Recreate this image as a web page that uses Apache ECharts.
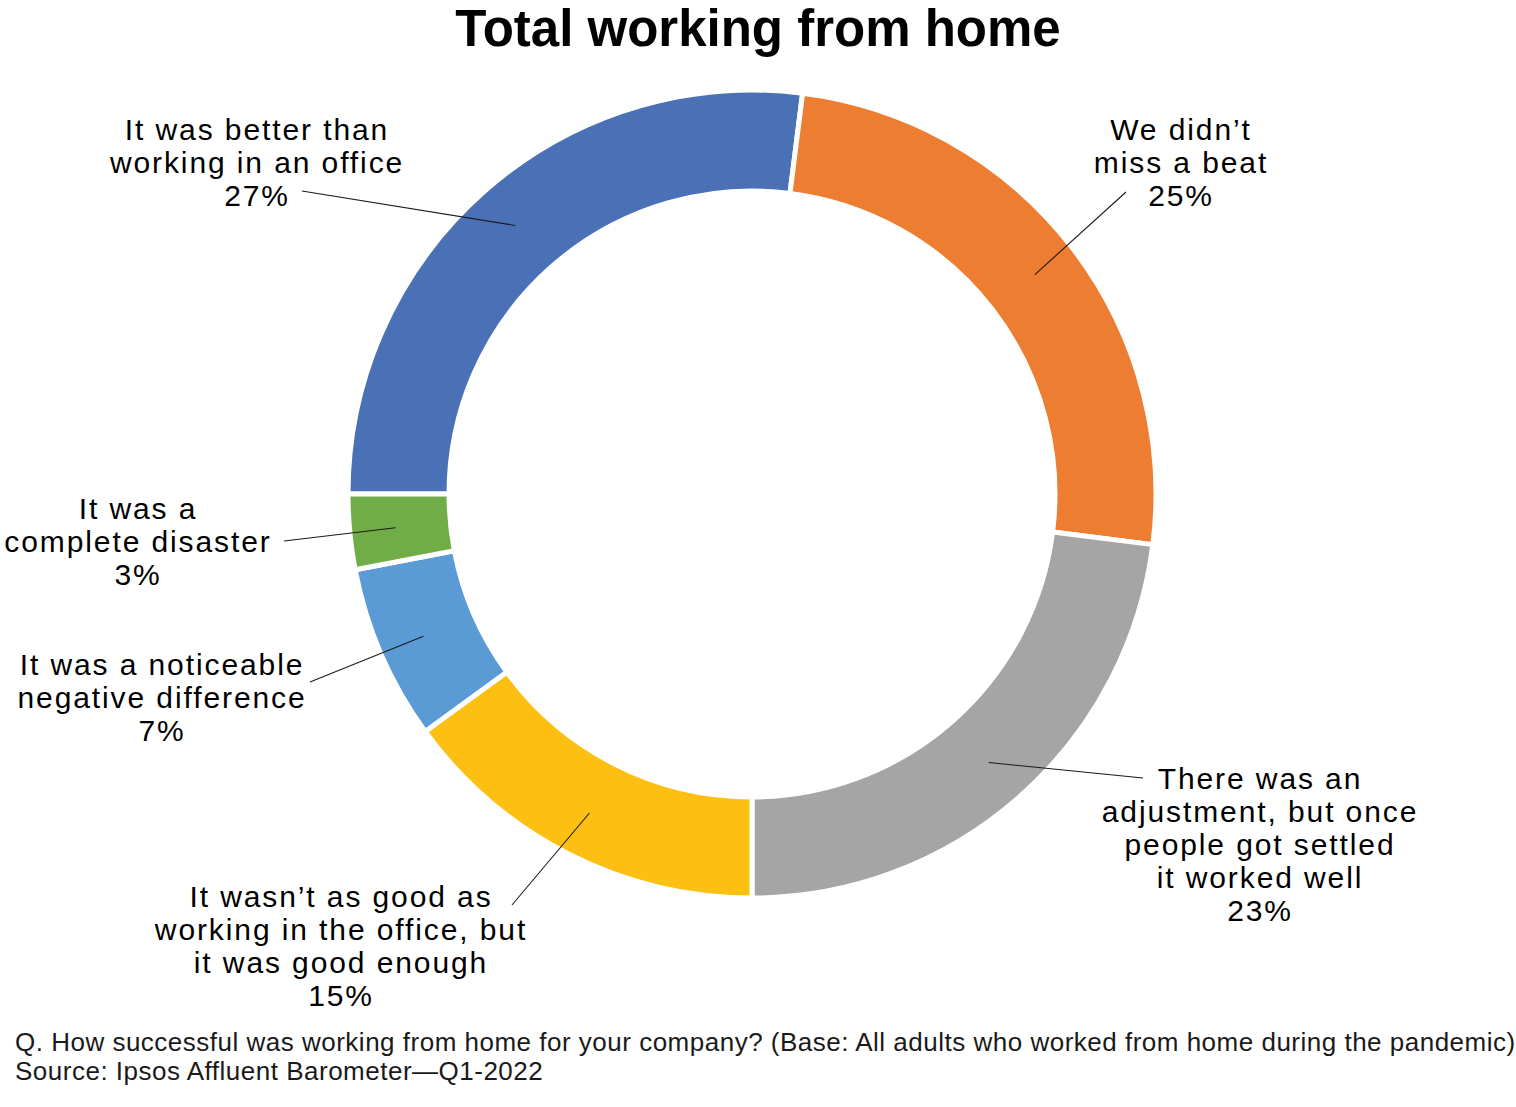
<!DOCTYPE html>
<html>
<head>
<meta charset="utf-8">
<script src="https://cdn.jsdelivr.net/npm/echarts@6/dist/echarts.min.js"></script>
<style>
  html, body { margin: 0; padding: 0; background: #ffffff; }
  #chart { width: 1516px; height: 1107px; }
  /* slide-style loose tracking: slice labels (30px) and footnote (26px) */
  #chart text[style*="30px"] { letter-spacing: 1.9px; }
  #chart text[style*="26px"] { letter-spacing: 0.5px; }
</style>
</head>
<body>
<div id="chart"></div>
<script>
// ---- data ----
const chartTitle = 'Total working from home';
const categories = [
  'It was better than\nworking in an office',
  'We didn\u2019t\nmiss a beat',
  'There was an\nadjustment, but once\npeople got settled\nit worked well',
  'It wasn\u2019t as good as\nworking in the office, but\nit was good enough',
  'It was a noticeable\nnegative difference',
  'It was a\ncomplete disaster'
];
const shares = [27, 25, 23, 15, 7, 3];
const sliceColors = ['#4A71B6', '#ED7D31', '#A5A5A5', '#FDBF12', '#5B9BD5', '#70AD47'];
const footnote = 'Q. How successful was working from home for your company? (Base: All adults who worked from home during the pandemic)\nSource: Ipsos Affluent Barometer\u2014Q1-2022';

// ---- layout (label placement, pixels) ----
const pieCenter = [752, 494];
const ringRadius = [303, 404];
const pieStartAngle = 180;
const leaderStartRadius = 358;
const labelPlacement = [
  { cx: 257,  top: 112.5, ex: 302,  ey: 191 },
  { cx: 1181, top: 112.5, ex: 1126, ey: 192 },
  { cx: 1260, top: 761.5, ex: 1143, ey: 778 },
  { cx: 341,  top: 879.5, ex: 512,  ey: 905 },
  { cx: 162,  top: 647.5, ex: 310,  ey: 682 },
  { cx: 138,  top: 491.5, ex: 284,  ey: 541 }
];

const chart = echarts.init(document.getElementById('chart'), null, { renderer: 'svg' });

// point inside the ring at the middle angle of slice i, taken from the pie's own layout
function leaderStart(i) {
  let cx = pieCenter[0], cy = pieCenter[1], mid = null;
  try {
    const data = chart.getModel().getSeriesByIndex(0).getData();
    const lay = data.getItemLayout(i);
    if (lay && lay.startAngle != null) {
      mid = (lay.startAngle + lay.endAngle) / 2;
      cx = lay.cx; cy = lay.cy;
    }
  } catch (e) { mid = null; }
  if (mid === null) {
    const total = shares.reduce((a, b) => a + b, 0);
    let cum = 0;
    for (let k = 0; k < i; k++) cum += shares[k];
    const frac = (cum + shares[i] / 2) / total;
    mid = -pieStartAngle * Math.PI / 180 + frac * 2 * Math.PI;
  }
  return [cx + leaderStartRadius * Math.cos(mid), cy + leaderStartRadius * Math.sin(mid)];
}

const option = {
  backgroundColor: '#ffffff',
  animation: false,
  title: [
    {
      text: chartTitle,
      left: 'center',
      top: 2,
      padding: 0,
      textStyle: {
        fontFamily: 'Liberation Sans',
        fontWeight: 'bold',
        fontSize: 51,
        lineHeight: 52,
        color: '#000000'
      }
    },
    {
      text: footnote,
      left: 15,
      top: 1027,
      padding: 0,
      textStyle: {
        fontFamily: 'Liberation Sans',
        fontWeight: 'normal',
        fontSize: 26,
        lineHeight: 29,
        color: '#1a1a1a'
      }
    }
  ],
  series: [
    {
      // the coloured ring
      type: 'pie',
      z: 2,
      center: pieCenter,
      radius: ringRadius,
      startAngle: pieStartAngle,
      clockwise: true,
      silent: true,
      itemStyle: { borderColor: '#ffffff', borderWidth: 5 },
      label: { show: false },
      labelLine: { show: false },
      data: categories.map((name, i) => ({
        name: name,
        value: shares[i],
        itemStyle: { color: sliceColors[i] }
      }))
    },
    {
      // same slices, invisible, carrying the labels and leader lines above the ring
      type: 'pie',
      z: 3,
      center: pieCenter,
      radius: ringRadius,
      startAngle: pieStartAngle,
      clockwise: true,
      avoidLabelOverlap: false,
      silent: true,
      itemStyle: { color: 'rgba(0,0,0,0)', borderWidth: 0 },
      data: categories.map((name, i) => ({ name: name, value: shares[i] })),
      label: {
        show: true,
        position: 'outside',
        formatter: '{b}\n{c}%',
        fontFamily: 'Liberation Sans',
        fontSize: 30,
        lineHeight: 33,
        color: '#000000',
        align: 'center'
      },
      labelLine: {
        show: true,
        length: 10,
        length2: 10,
        lineStyle: { color: '#1a1a1a', width: 1.1, opacity: 1 }
      },
      labelLayout: function (params) {
        const p = labelPlacement[params.dataIndex];
        return {
          x: p.cx,
          y: p.top,
          align: 'center',
          verticalAlign: 'top',
          labelLinePoints: [leaderStart(params.dataIndex), [p.ex, p.ey]]
        };
      }
    }
  ]
};

chart.setOption(option);
</script>
</body>
</html>
